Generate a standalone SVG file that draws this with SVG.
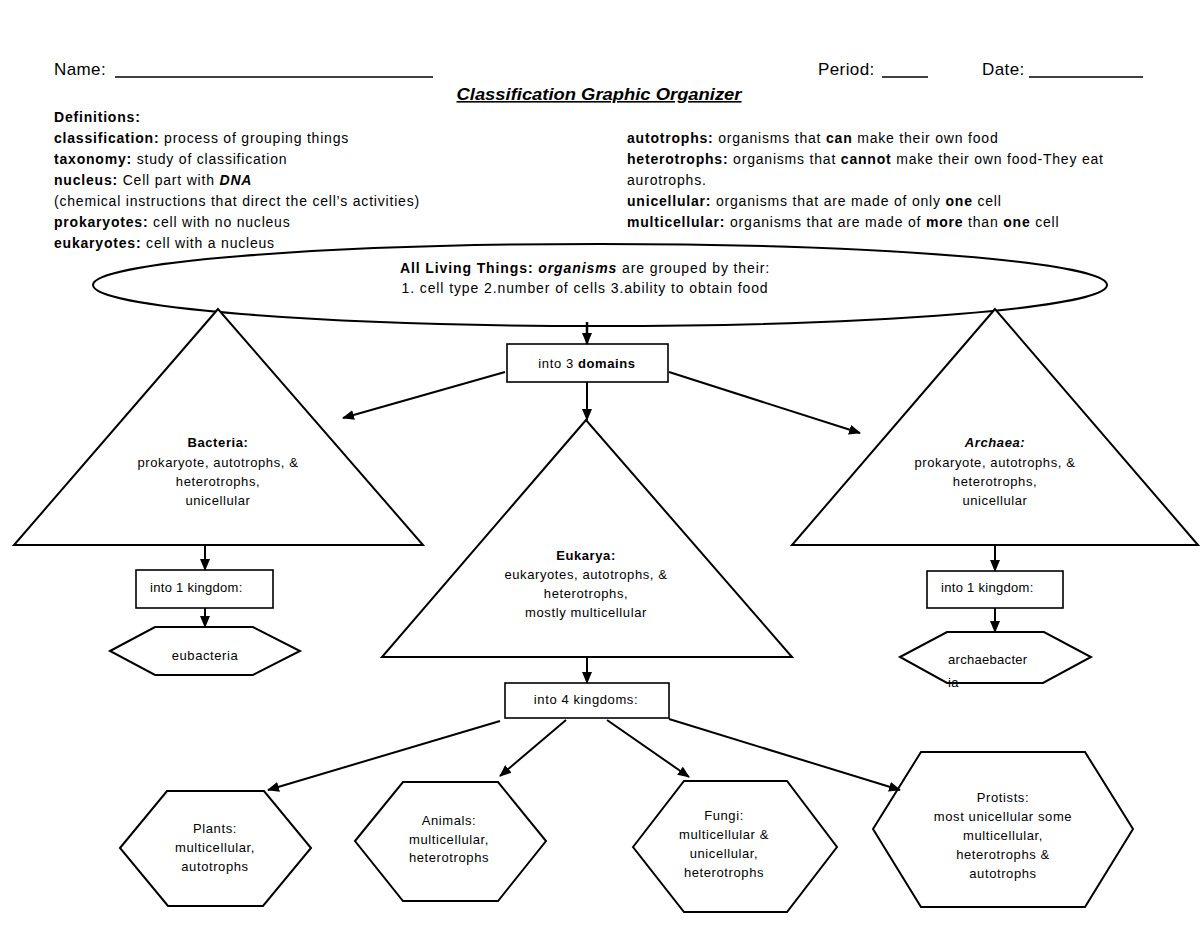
<svg xmlns="http://www.w3.org/2000/svg" width="1200" height="927" viewBox="0 0 1200 927">
<style>
text{font-family:"Liberation Sans","DejaVu Sans",sans-serif;fill:#000}
.hd{font-size:17px;letter-spacing:0.4px}
.df{font-size:14px;letter-spacing:0.8px}
.b{font-weight:bold}
.nt{font-size:13px;text-anchor:middle;letter-spacing:0.6px}
.el{font-size:14px;text-anchor:middle;letter-spacing:0.9px}
.sm{font-size:13px;letter-spacing:0.3px}
.sh{fill:#fff;stroke:#000;stroke-width:2;stroke-linejoin:miter}
.bx{fill:#fff;stroke:#000;stroke-width:1.6}
.cn{stroke:#000;stroke-width:2;fill:none}
.ul{stroke:#000;stroke-width:1.3}
</style>
<defs>
<marker id="ah" markerWidth="12" markerHeight="10" refX="11" refY="5" orient="auto" markerUnits="userSpaceOnUse">
<path d="M0,0 L12,5 L0,10 Z" fill="#000"/>
</marker>
</defs>
<rect width="1200" height="927" fill="#fff"/>

<g id="header">
<text class="hd" x="54" y="75">Name:</text>
<line class="ul" x1="115" y1="77" x2="433" y2="77"/>
<text class="hd" x="818" y="75">Period:</text>
<line class="ul" x1="882" y1="77" x2="928" y2="77"/>
<text class="hd" x="982" y="75">Date:</text>
<line class="ul" x1="1029" y1="77" x2="1143" y2="77"/>
<text x="599" y="100" text-anchor="middle" font-size="16" font-weight="bold" font-style="italic" text-decoration="underline" textLength="285" lengthAdjust="spacingAndGlyphs">Classification Graphic Organizer</text>
</g>

<g id="definitions">
<text class="df b" x="54" y="122">Definitions:</text>
<text class="df" x="54" y="143"><tspan class="b">classification:</tspan> process of grouping things</text>
<text class="df" x="54" y="164"><tspan class="b">taxonomy:</tspan> study of classification</text>
<text class="df" x="54" y="185"><tspan class="b">nucleus:</tspan> Cell part with <tspan class="b" font-style="italic">DNA</tspan></text>
<text class="df" x="54" y="206">(chemical instructions that direct the cell’s activities)</text>
<text class="df" x="54" y="227"><tspan class="b">prokaryotes:</tspan> cell with no nucleus</text>
<text class="df" x="54" y="248"><tspan class="b">eukaryotes:</tspan> cell with a nucleus</text>
<text class="df" x="627" y="143"><tspan class="b">autotrophs:</tspan> organisms that <tspan class="b">can</tspan> make their own food</text>
<text class="df" x="627" y="164"><tspan class="b">heterotrophs:</tspan> organisms that <tspan class="b">cannot</tspan> make their own food-They eat</text>
<text class="df" x="627" y="185">aurotrophs.</text>
<text class="df" x="627" y="206"><tspan class="b">unicellular:</tspan> organisms that are made of only <tspan class="b">one</tspan> cell</text>
<text class="df" x="627" y="227"><tspan class="b">multicellular:</tspan> organisms that are made of <tspan class="b">more</tspan> than <tspan class="b">one</tspan> cell</text>
</g>

<g id="node-all-living">
<ellipse cx="600" cy="285" rx="507" ry="41" fill="none" stroke="#000" stroke-width="2"/>
<text class="el" x="585" y="273"><tspan class="b">All Living Things:</tspan> <tspan class="b" font-style="italic">organisms</tspan> are grouped by their:</text>
<text class="el" x="585" y="293">1. cell type 2.number of cells 3.ability to obtain food</text>
</g>

<g id="node-domains">
<rect class="bx" x="507" y="344" width="161" height="38"/>
<text class="nt" x="587" y="368">into 3 <tspan class="b">domains</tspan></text>
</g>

<g id="node-bacteria">
<polygon class="sh" points="218,309 14,545 423,545"/>
<text class="nt b" x="218" y="447">Bacteria:</text>
<text class="nt" x="218" y="467">prokaryote, autotrophs, &amp;</text>
<text class="nt" x="218" y="486">heterotrophs,</text>
<text class="nt" x="218" y="505">unicellular</text>
</g>

<g id="node-archaea">
<polygon class="sh" points="995,309 792,545 1198,545"/>
<text class="nt b" x="995" y="447" font-style="italic">Archaea:</text>
<text class="nt" x="995" y="467">prokaryote, autotrophs, &amp;</text>
<text class="nt" x="995" y="486">heterotrophs,</text>
<text class="nt" x="995" y="505">unicellular</text>
</g>

<g id="node-eukarya">
<polygon class="sh" points="586,420 382,657 792,657"/>
<text class="nt b" x="586" y="560">Eukarya:</text>
<text class="nt" x="586" y="579">eukaryotes, autotrophs, &amp;</text>
<text class="nt" x="586" y="598">heterotrophs,</text>
<text class="nt" x="586" y="617">mostly multicellular</text>
</g>

<g id="node-kingdom-left">
<rect class="bx" x="136" y="570" width="137" height="38"/>
<text class="sm" x="150" y="592">into 1 kingdom:</text>
</g>

<g id="node-eubacteria">
<polygon class="sh" points="110,651 155,627 253,627 300,651 253,675 155,675"/>
<text class="nt" x="205" y="660">eubacteria</text>
</g>

<g id="node-kingdom-right">
<rect class="bx" x="927" y="571" width="136" height="37"/>
<text class="sm" x="941" y="592">into 1 kingdom:</text>
</g>

<g id="node-archaebacteria">
<polygon class="sh" points="900,657 947,632 1044,632 1091,657 1043,683 947,683"/>
<text class="sm" x="948" y="664">archaebacter</text>
<text class="sm" x="948" y="687">ia</text>
</g>

<g id="node-kingdoms4">
<rect class="bx" x="505" y="683" width="164" height="35"/>
<text class="nt" x="586" y="704">into 4 kingdoms:</text>
</g>

<g id="node-plants">
<polygon class="sh" points="120,848 167,791 264,791 311,848 263,906 168,906"/>
<text class="nt" x="215" y="833">Plants:</text>
<text class="nt" x="215" y="852">multicellular,</text>
<text class="nt" x="215" y="871">autotrophs</text>
</g>

<g id="node-animals">
<polygon class="sh" points="355,841 403,782 498,782 546,841 498,901 403,901"/>
<text class="nt" x="449" y="825">Animals:</text>
<text class="nt" x="449" y="844">multicellular,</text>
<text class="nt" x="449" y="862">heterotrophs</text>
</g>

<g id="node-fungi">
<polygon class="sh" points="633,847 684,781 787,781 837,847 787,912 684,912"/>
<text class="nt" x="724" y="820">Fungi:</text>
<text class="nt" x="724" y="839">multicellular &amp;</text>
<text class="nt" x="724" y="858">unicellular,</text>
<text class="nt" x="724" y="877">heterotrophs</text>
</g>

<g id="node-protists">
<polygon class="sh" points="873,829 921,752 1085,752 1133,829 1085,907 921,907"/>
<text class="nt" x="1003" y="802">Protists:</text>
<text class="nt" x="1003" y="821">most unicellular some</text>
<text class="nt" x="1003" y="840">multicellular,</text>
<text class="nt" x="1003" y="859">heterotrophs &amp;</text>
<text class="nt" x="1003" y="878">autotrophs</text>
</g>

<g id="connectors" class="cn">
<line x1="587" y1="322" x2="587" y2="344" marker-end="url(#ah)" stroke-width="2.5"/>
<line x1="505" y1="372" x2="343" y2="418" marker-end="url(#ah)"/>
<line x1="669" y1="372" x2="860" y2="433" marker-end="url(#ah)"/>
<line x1="587" y1="382" x2="587" y2="420" marker-end="url(#ah)"/>
<line x1="205" y1="545" x2="205" y2="570" marker-end="url(#ah)"/>
<line x1="205" y1="608" x2="205" y2="627" marker-end="url(#ah)"/>
<line x1="995" y1="545" x2="995" y2="571" marker-end="url(#ah)"/>
<line x1="995" y1="608" x2="995" y2="632" marker-end="url(#ah)"/>
<line x1="587" y1="657" x2="587" y2="683" marker-end="url(#ah)"/>
<line x1="500" y1="721" x2="268" y2="790" marker-end="url(#ah)"/>
<line x1="566" y1="720" x2="500" y2="776" marker-end="url(#ah)"/>
<line x1="607" y1="720" x2="689" y2="777" marker-end="url(#ah)"/>
<line x1="669" y1="719" x2="900" y2="790" marker-end="url(#ah)"/>
</g>
</svg>
